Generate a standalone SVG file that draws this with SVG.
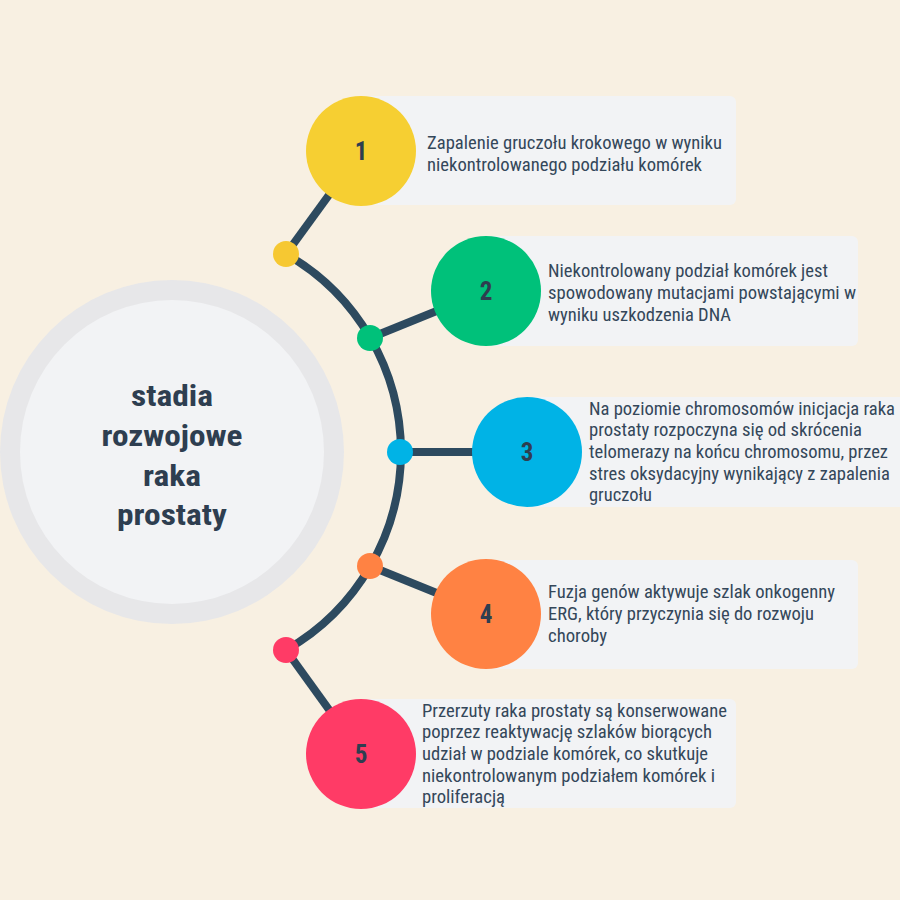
<svg xmlns="http://www.w3.org/2000/svg" width="900" height="900" viewBox="0 0 900 900">
<style>
.t{font-family:"Roboto Condensed",Roboto,"Liberation Sans",sans-serif;font-size:18px;fill:#34475a}
.n{font-family:"Roboto Condensed",Roboto,"Liberation Sans",sans-serif;font-size:25px;font-weight:bold;fill:#2e3e50;text-anchor:middle}
.c{font-family:"Roboto Condensed",Roboto,"Liberation Sans",sans-serif;font-size:29px;font-weight:bold;fill:#2e3e50;text-anchor:middle}
.box{fill:#f2f3f5}
.ln{stroke:#2d4a5f;stroke-width:8;fill:none}
</style>
<rect width="900" height="900" fill="#f8f0e2"/>
<g id="center">
<circle cx="172" cy="452" r="172" fill="#e7e7e9"/>
<circle cx="172" cy="452" r="152" fill="#f2f3f5"/>
<text class="c" x="172" y="406" textLength="82" lengthAdjust="spacingAndGlyphs">stadia</text>
<text class="c" x="172" y="446" textLength="141" lengthAdjust="spacingAndGlyphs">rozwojowe</text>
<text class="c" x="172" y="486" textLength="58" lengthAdjust="spacingAndGlyphs">raka</text>
<text class="c" x="172" y="525" textLength="110" lengthAdjust="spacingAndGlyphs">prostaty</text>
</g>
<g id="connectors">
<path class="ln" d="M286 254 A228 228 0 0 1 286 650"/>
<line class="ln" x1="286" y1="254" x2="361" y2="151"/>
<line class="ln" x1="370" y1="338" x2="486" y2="291"/>
<line class="ln" x1="400" y1="452" x2="527" y2="452"/>
<line class="ln" x1="370" y1="566" x2="486" y2="613"/>
<line class="ln" x1="286" y1="650" x2="361" y2="754"/>
</g>
<g id="step1">
<rect class="box" x="361" y="96" width="375" height="109" rx="6"/>
<circle cx="361" cy="151" r="55" fill="#f6cf32"/>
<circle cx="286" cy="254" r="13" fill="#f6c832"/>
<text class="n" x="361" y="160">1</text>
<text class="t" x="427" y="149" textLength="295" lengthAdjust="spacingAndGlyphs">Zapalenie gruczołu krokowego w wyniku</text>
<text class="t" x="427" y="171" textLength="275" lengthAdjust="spacingAndGlyphs">niekontrolowanego podziału komórek</text>
</g>
<g id="step2">
<rect class="box" x="486" y="236" width="372" height="110" rx="6"/>
<circle cx="486" cy="291" r="55" fill="#00c17a"/>
<circle cx="370" cy="338" r="13" fill="#00c17a"/>
<text class="n" x="486" y="300">2</text>
<text class="t" x="548" y="277" textLength="280" lengthAdjust="spacingAndGlyphs">Niekontrolowany podział komórek jest</text>
<text class="t" x="548" y="299" textLength="308" lengthAdjust="spacingAndGlyphs">spowodowany mutacjami powstającymi w</text>
<text class="t" x="548" y="321" textLength="183" lengthAdjust="spacingAndGlyphs">wyniku uszkodzenia DNA</text>
</g>
<g id="step3">
<rect class="box" x="527" y="397" width="373" height="110"/>
<circle cx="527" cy="452" r="55" fill="#00b3e6"/>
<circle cx="400" cy="452" r="13" fill="#00b3e6"/>
<text class="n" x="527" y="461">3</text>
<text class="t" x="589" y="415" textLength="306" lengthAdjust="spacingAndGlyphs">Na poziomie chromosomów inicjacja raka</text>
<text class="t" x="589" y="436" textLength="273" lengthAdjust="spacingAndGlyphs">prostaty rozpoczyna się od skrócenia</text>
<text class="t" x="589" y="458" textLength="299" lengthAdjust="spacingAndGlyphs">telomerazy na końcu chromosomu, przez</text>
<text class="t" x="589" y="480" textLength="301" lengthAdjust="spacingAndGlyphs">stres oksydacyjny wynikający z zapalenia</text>
<text class="t" x="589" y="501" textLength="63" lengthAdjust="spacingAndGlyphs">gruczołu</text>
</g>
<g id="step4">
<rect class="box" x="486" y="560" width="372" height="109" rx="6"/>
<circle cx="486" cy="614" r="55" fill="#ff8243"/>
<circle cx="370" cy="566" r="13" fill="#ff8243"/>
<text class="n" x="486" y="623">4</text>
<text class="t" x="548" y="598" textLength="287" lengthAdjust="spacingAndGlyphs">Fuzja genów aktywuje szlak onkogenny</text>
<text class="t" x="548" y="620" textLength="266" lengthAdjust="spacingAndGlyphs">ERG, który przyczynia się do rozwoju</text>
<text class="t" x="548" y="642" textLength="59" lengthAdjust="spacingAndGlyphs">choroby</text>
</g>
<g id="step5">
<rect class="box" x="361" y="699" width="375" height="109" rx="6"/>
<circle cx="361" cy="754" r="55" fill="#ff3b66"/>
<circle cx="286" cy="650" r="13" fill="#ff3b66"/>
<text class="n" x="361" y="763">5</text>
<text class="t" x="422" y="717" textLength="305" lengthAdjust="spacingAndGlyphs">Przerzuty raka prostaty są konserwowane</text>
<text class="t" x="422" y="738" textLength="290" lengthAdjust="spacingAndGlyphs">poprzez reaktywację szlaków biorących</text>
<text class="t" x="422" y="760" textLength="286" lengthAdjust="spacingAndGlyphs">udział w podziale komórek, co skutkuje</text>
<text class="t" x="422" y="782" textLength="293" lengthAdjust="spacingAndGlyphs">niekontrolowanym podziałem komórek i</text>
<text class="t" x="422" y="803" textLength="83" lengthAdjust="spacingAndGlyphs">proliferacją</text>
</g>
</svg>
